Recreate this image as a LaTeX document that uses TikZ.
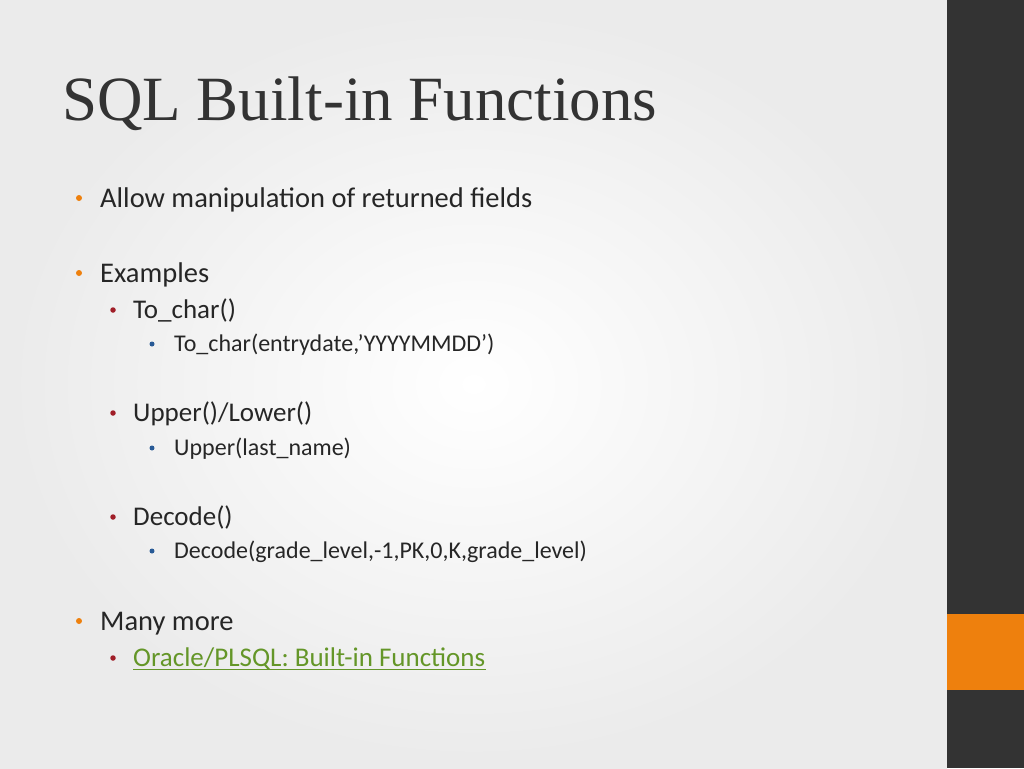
\documentclass[tikz,border=0pt]{standalone}
\usepackage{fontspec}
\setmainfont{Carlito}
\newfontfamily\titlefont{Liberation Serif}
\definecolor{orng}{RGB}{238,128,13}
\definecolor{dred}{RGB}{160,30,40}
\definecolor{dblue}{RGB}{40,90,150}
\definecolor{lgreen}{RGB}{100,150,40}
\begin{document}
\begin{tikzpicture}[x=1pt,y=-1pt,
  lone/.style={anchor=base west,inner sep=0pt,font=\fontsize{28.5}{32}\selectfont,text=black!85},
  ltwo/.style={anchor=base west,inner sep=0pt,font=\fontsize{27}{30}\selectfont,text=black!85},
  lthree/.style={anchor=base west,inner sep=0pt,font=\fontsize{24}{28}\selectfont,text=black!85},
  bone/.style={circle,fill=orng,inner sep=0pt,minimum size=6pt},
  btwo/.style={circle,fill=dred,inner sep=0pt,minimum size=5.5pt},
  bthree/.style={circle,fill=dblue,inner sep=0pt,minimum size=5pt}]
\useasboundingbox (0,0) rectangle (1024,768);
\shade[inner color=white,outer color=black!8] (0,0) rectangle (947,768);
\fill[black!80] (947,0) rectangle (1024,768);
\fill[orng] (947,614) rectangle (1024,690);
\node[anchor=base west,inner sep=0pt,font=\titlefont\fontsize{63}{68}\selectfont,text=black!80] (title) at (62,120) {SQL Built-in Functions};
\node[bone] (b1) at (79,198) {}; \node[lone] (t1) at (100,207) {Allow manipulation of returned fields};
\node[bone] (b2) at (79,273) {}; \node[lone] (t2) at (100,282) {Examples};
\node[btwo] (b3) at (113,310) {}; \node[ltwo] (t3) at (133,318) {To\_char()};
\node[bthree] (b4) at (152,344) {}; \node[lthree] (t4) at (174,351) {To\_char(entrydate,’YYYYMMDD’)};
\node[btwo] (b5) at (113,413) {}; \node[ltwo] (t5) at (133,421) {Upper()/Lower()};
\node[bthree] (b6) at (152,448) {}; \node[lthree] (t6) at (174,455) {Upper(last\_name)};
\node[btwo] (b7) at (113,517) {}; \node[ltwo] (t7) at (133,525) {Decode()};
\node[bthree] (b8) at (152,551) {}; \node[lthree] (t8) at (174,558) {Decode(grade\_level,-1,PK,0,K,grade\_level)};
\node[bone] (b9) at (79,621) {}; \node[lone] (t9) at (100,630) {Many more};
\node[btwo] (b10) at (113,658) {}; \node[ltwo,text=lgreen] (t10) at (133,666) {Oracle/PLSQL: Built-in Functions};
\draw[lgreen,line width=1pt] ([yshift=-3pt]t10.base west) -- ([yshift=-3pt]t10.base east);
\end{tikzpicture}
\end{document}
